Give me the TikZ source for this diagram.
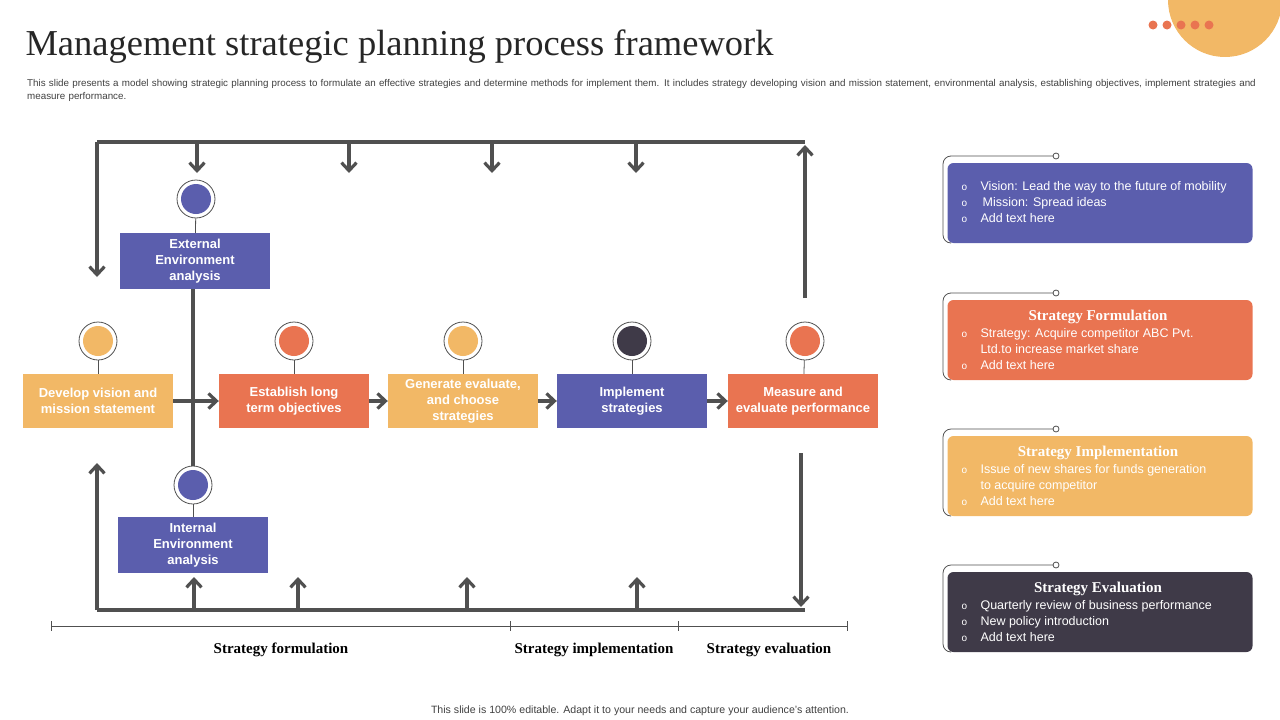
\documentclass[tikz,border=0pt]{standalone}
\usepackage{fontspec}
\setmainfont{Liberation Serif}
\setsansfont{Liberation Sans}
\usetikzlibrary{arrows.meta,positioning}
\definecolor{myblue}{HTML}{5B5EAD}
\definecolor{myorange}{HTML}{E97451}
\definecolor{myyellow}{HTML}{F2B866}
\definecolor{mydark}{HTML}{3F3A48}
\definecolor{myline}{HTML}{505050}
\newcommand{\itm}[1]{\makebox[19pt][l]{\fontsize{10}{12}\selectfont o}#1}
\newcommand{\ind}{\hspace*{19pt}}
\tikzset{
  stepbox/.style={fill=#1, minimum width=150pt, minimum height=54pt, align=center,
    text=white, font=\sffamily\bfseries\fontsize{13}{16}\selectfont, inner sep=1pt},
  icon/.style={circle, draw=myline, line width=0.8pt, fill=white, minimum size=38pt, inner sep=0pt,
    path picture={\fill[#1] (path picture bounding box.center) circle (15pt);}},
  flow/.style={myline, line width=3.2pt, -{Straight Barb[length=8pt,width=15pt]}},
  plain/.style={myline, line width=3.2pt},
  panel/.style={fill=#1, rounded corners=6pt, minimum width=305pt, minimum height=80pt},
  ptext/.style={text=white, font=\sffamily\fontsize{12.5}{16}\selectfont, align=left, anchor=north west},
  phead/.style={text=white, font=\bfseries\fontsize{15}{16}\selectfont},
  tl/.style={font=\bfseries\fontsize{15}{18}\selectfont}
}
\begin{document}
\begin{tikzpicture}[x=1pt,y=-1pt]
  \useasboundingbox (0,0) rectangle (1280,720);
  % decoration
  \begin{scope}
    \clip (0,0) rectangle (1280,720);
    \fill[myyellow] (1225,0) circle (57);
  \end{scope}
  \foreach \x in {1153,1167,1181,1195,1209} \fill[myorange] (\x,25) circle (4.5);
  % title
  \node[anchor=west, font=\fontsize{36.5}{40}\selectfont, text=black!85] (title) at (22,47) {Management strategic planning process framework};
  \node[anchor=north west, align=left, text width=1230pt, font=\sffamily\fontsize{9.8}{13}\selectfont, text=black!75, inner sep=0pt] (sub) at (27,79)
    {\raggedright\hyphenpenalty=10000 This slide presents a model showing strategic planning process to formulate an effective strategies and determine methods for implement them. It includes strategy developing vision and mission statement, environmental analysis, establishing objectives, implement strategies and measure performance.};
  % boxes
  \node[stepbox=myyellow] (dev) at (98,401) {Develop vision and\\mission statement};
  \node[stepbox=myorange] (est) at (294,401) {Establish long\\term objectives};
  \node[stepbox=myyellow] (gen) at (463,401) {Generate evaluate,\\and choose\\strategies};
  \node[stepbox=myblue] (imp) at (632,401) {Implement\\strategies};
  \node[stepbox=myorange] (mea) at (803,401) {Measure and\\evaluate performance};
  \node[stepbox=myblue, minimum height=56pt] (ext) at (195,261) {External\\Environment\\analysis};
  \node[stepbox=myblue, minimum height=56pt] (int) at (193,545) {Internal\\Environment\\analysis};
  % icons
  \node[icon=myyellow] (idev) at (98,341) {};
  \node[icon=myorange] (iest) at (294,341) {};
  \node[icon=myyellow] (igen) at (463,341) {};
  \node[icon=mydark] (iimp) at (632,341) {};
  \node[icon=myorange] (imea) at (805,341) {};
  \node[icon=myblue] (iext) at (196,199) {};
  \node[icon=myblue] (iint) at (193,485) {};
  \foreach \a/\b in {idev/dev,iest/est,igen/gen,iimp/imp,imea/mea,iext/ext} \draw[myline, line width=0.8pt] (\a) -- (\b);
  \draw[myline, line width=0.8pt] (iint) -- (int);
  % main connections
  \draw[plain] (ext.south -| 193,0) -- (iint);
  \draw[flow] (dev) -- (est);
  \draw[flow] (est) -- (gen);
  \draw[flow] (gen) -- (imp);
  \draw[flow] (imp) -- (mea);
  % feedback loops
  \coordinate (tl) at (97,142);
  \coordinate (tr) at (805,142);
  \coordinate (bl) at (97,610);
  \coordinate (br) at (805,610);
  \draw[plain] (tl) -- (tr);
  \draw[flow] (tl) -- (97,277);
  \draw[flow] (805,298) -- (805,145);
  \foreach \x in {197,349,492,636} \draw[flow] (\x,142) -- (\x,173);
  \draw[plain] (bl) -- (br);
  \draw[flow] (bl) -- (97,463);
  \draw[flow] (801,453) -- (801,607);
  \foreach \x in {194,298,467,637} \draw[flow] (\x,610) -- (\x,577);
  % timeline
  \draw[myline, line width=0.8pt] (51,626) -- (847,626);
  \foreach \x in {51,510,678,847} \draw[myline, line width=0.8pt] (\x,621) -- (\x,631);
  \node[tl] (tf) at (281,650) {Strategy formulation};
  \node[tl] (ti) at (594,650) {Strategy implementation};
  \node[tl] (te) at (769,650) {Strategy evaluation};
  % right panels
  \foreach \y/\c/\n in {203/myblue/pa,340/myorange/pb,476/myyellow/pc,612/mydark/pd}{
    \draw[myline, line width=0.8pt, rounded corners=8pt] (1053,\y-47) -- (943,\y-47) -- (943,\y+40) -- (950,\y+40);
    \draw[myline, line width=0.8pt, fill=white] (1056,\y-47) circle (3);
    \node[panel=\c] (\n) at (1100,\y) {};
  }
  \node[ptext] at (958,178) {\itm{Vision: Lead the way to the future of mobility}\\\itm{\,Mission: Spread ideas}\\\itm{Add text here}};
  \node[phead] at (1098,317) {Strategy Formulation};
  \node[ptext] at (958,325) {\itm{Strategy: Acquire competitor ABC Pvt.}\\\ind Ltd.to increase market share\\\itm{Add text here}};
  \node[phead] at (1098,453) {Strategy Implementation};
  \node[ptext] at (958,461) {\itm{Issue of new shares for funds generation}\\\ind to acquire competitor\\\itm{Add text here}};
  \node[phead] at (1098,589) {Strategy Evaluation};
  \node[ptext] at (958,597) {\itm{Quarterly review of business performance}\\\itm{New policy introduction}\\\itm{Add text here}};
  % footer
  \node[font=\sffamily\fontsize{10.6}{12}\selectfont, text=black!75] (foot) at (640,711) {This slide is 100\% editable. Adapt it to your needs and capture your audience's attention.};
\end{tikzpicture}
\end{document}
